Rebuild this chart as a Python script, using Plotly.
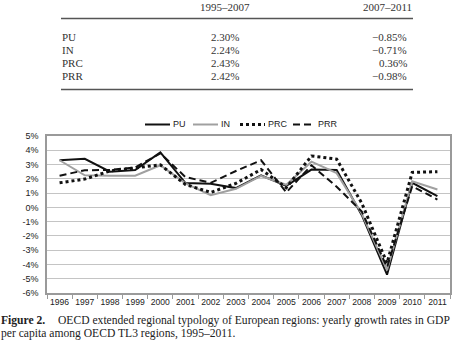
import plotly.graph_objects as go

years = ["1996", "1997", "1998", "1999", "2000", "2001", "2002", "2003",
         "2004", "2005", "2006", "2007", "2008", "2009", "2010", "2011"]
PU = [3.30, 3.40, 2.50, 2.62, 3.85, 1.70, 1.65, 1.35, 2.25, 1.50, 2.65, 2.62, -0.55, -4.72, 1.72, 0.78]
IN = [3.30, 2.25, 2.22, 2.22, 2.95, 1.68, 0.85, 1.30, 2.20, 1.58, 3.20, 2.40, -0.45, -4.40, 1.82, 1.25]
PRC = [1.72, 1.98, 2.55, 2.75, 2.98, 1.60, 1.05, 1.68, 2.65, 1.38, 3.60, 3.38, 0.28, -3.90, 2.45, 2.50]
PRR = [2.22, 2.60, 2.62, 2.80, 3.78, 2.12, 1.72, 2.55, 3.30, 1.05, 2.95, 1.45, -0.30, -4.20, 1.48, 0.55]

ytick_vals = [-6, -5, -4, -3, -2, -1, 0, 1, 2, 3, 4, 5]
ytick_text = ["-6%", "-5%", "-4%", "-3%", "-2%", "-1%", "0%", "1%", "2%", "3%", "4%", "5%"]

table_rows = ["PU", "IN", "PRC", "PRR"]
table_p1 = ["2.30%", "2.24%", "2.43%", "2.42%"]
table_p2 = ["\u22120.85%", "\u22120.71%", "0.36%", "\u22120.98%"]
table_headers = ["1995\u20132007", "2007\u20132011"]

W, H = 474, 348
L, R, T, B = 47, 450, 136, 293


def X(px):
    return (px - L) / (R - L)


def Y(py):
    return (B - py) / (B - T)


series = [
    ("PU", PU, dict(color="#111111", width=2, dash="solid")),
    ("IN", IN, dict(color="#a0a0a0", width=2, dash="solid")),
    ("PRC", PRC, dict(color="#111111", width=3, dash="3px,3px")),
    ("PRR", PRR, dict(color="#111111", width=2, dash="7px,4px")),
]

fig = go.Figure()
for name, vals, ln in series:
    fig.add_trace(go.Scatter(x=years, y=vals, mode="lines", name=name, line=ln,
                             showlegend=False))

shapes = []
annotations = []

# manual legend
leg_y = 124.5
leg = [("PU", 145, 170, 172), ("IN", 193, 218, 220), ("PRC", 240, 265, 267), ("PRR", 293, 315, 317)]
for (name, x0, x1, tx), (_, _, ln) in zip(leg, series):
    shapes.append(dict(type="line", xref="paper", yref="paper", x0=X(x0), x1=X(x1),
                       y0=Y(leg_y), y1=Y(leg_y), line=ln))
    annotations.append(dict(text=name, xref="paper", yref="paper", x=X(tx), y=Y(leg_y),
                            xanchor="left", yanchor="middle", showarrow=False, borderpad=0,
                            font=dict(family="Liberation Sans", size=9, color="#222222")))

# table
serif = dict(family="Liberation Serif", size=11, color="#333333")
annotations.append(dict(text=table_headers[0], xref="paper", yref="paper", x=X(225), y=Y(6.5),
                        xanchor="center", yanchor="middle", showarrow=False, borderpad=0, font=serif))
annotations.append(dict(text=table_headers[1], xref="paper", yref="paper", x=X(413), y=Y(6.5),
                        xanchor="right", yanchor="middle", showarrow=False, borderpad=0, font=serif))
for yy in (18.5, 89.5):
    shapes.append(dict(type="line", xref="paper", yref="paper", x0=X(61), x1=X(413),
                       y0=Y(yy), y1=Y(yy), line=dict(color="#555555", width=1.5)))
row_y = [37, 50, 63, 76]
for lab, v1, v2, ry in zip(table_rows, table_p1, table_p2, row_y):
    annotations.append(dict(text=lab, xref="paper", yref="paper", x=X(61), y=Y(ry),
                            xanchor="left", yanchor="middle", showarrow=False, borderpad=0, font=serif))
    annotations.append(dict(text=v1, xref="paper", yref="paper", x=X(225), y=Y(ry),
                            xanchor="center", yanchor="middle", showarrow=False, borderpad=0, font=serif))
    annotations.append(dict(text=v2, xref="paper", yref="paper", x=X(408), y=Y(ry),
                            xanchor="right", yanchor="middle", showarrow=False, borderpad=0, font=serif))

# caption
cap = dict(family="Liberation Serif", size=11.6, color="#222222")
annotations.append(dict(text="<b>Figure 2.</b>", xref="paper", yref="paper", x=X(0), y=Y(320),
                        xanchor="left", yanchor="middle", showarrow=False, borderpad=0, font=cap))
annotations.append(dict(text="OECD extended regional typology of European regions: yearly growth rates in GDP",
                        xref="paper", yref="paper", x=X(57), y=Y(320),
                        xanchor="left", yanchor="middle", showarrow=False, borderpad=0, font=cap))
annotations.append(dict(text="per capita among OECD TL3 regions, 1995\u20132011.",
                        xref="paper", yref="paper", x=X(0), y=Y(333.5),
                        xanchor="left", yanchor="middle", showarrow=False, borderpad=0, font=cap))

fig.update_layout(
    width=W, height=H,
    margin=dict(l=L, r=W - R, t=T, b=H - B, pad=0),
    paper_bgcolor="white", plot_bgcolor="white",
    shapes=shapes, annotations=annotations,
    showlegend=False,
    font=dict(family="Liberation Sans", size=9, color="#222222"),
)
fig.update_xaxes(type="category", range=[-0.5, 15.5], showgrid=False,
                 showline=True, mirror=True, linecolor="#9a9a9a", linewidth=1.5,
                 ticks="outside", tickson="boundaries", ticklen=4, tickcolor="#9a9a9a",
                 tickangle=0,
                 tickfont=dict(family="Liberation Sans", size=8.6, color="#222222"),
                 fixedrange=True)
fig.update_yaxes(range=[-6, 5], tickvals=ytick_vals, ticktext=ytick_text,
                 showgrid=True, gridcolor="#c4c4c4", gridwidth=1.3,
                 showline=True, mirror=True, linecolor="#9a9a9a", linewidth=1.5,
                 ticks="", zeroline=False, ticklabelstandoff=5,
                 tickfont=dict(family="Liberation Sans", size=9, color="#222222"),
                 fixedrange=True)

fig.write_html("out.html")
